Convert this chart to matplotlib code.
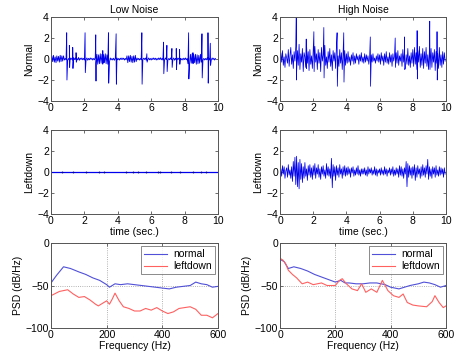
import matplotlib
matplotlib.use("Agg")
import matplotlib.pyplot as plt
import numpy as np

# ---------------- data ----------------
sample_dt = 0.05

# Low noise, normal: base samples every 0.05 s (bursts included) plus spikes
ln_base = [
    0.1, 0.3, -0.25, 0.35, -0.3, 0.2, -0.35, 0.3, -0.2, 0.25, -0.3, 0.35, -0.25, 0.3, -0.2, 0.3, -0.1, 0.05, -0.08, 0.1,
    -0.1, 0.05, -0.12, 0.1, -0.05, 0.08, -0.1, 0.12, -0.06, 0.1, -0.08, 0.05, -0.1, 0.15, -0.12, 0.08, -0.05, 0.1, -0.08, 0.06,
    -0.1, 0.08, -0.05, 0.1, -0.12, 0.06, -0.08, 0.1, -0.05, 0.08, -0.1, 0.05, -0.08, 0.15, -0.4, 0.45, -0.5, 0.4, -0.45, 0.5,
    -0.4, 0.45, -0.5, 0.4, -0.35, 0.5, -0.45, 0.4, -0.5, 0.35, -0.3, 0.1, -0.08, 0.05, -0.1, 0.08, -0.12, 0.06, -0.05, 0.1,
    -0.08, 0.05, -0.1, 0.08, -0.06, 0.1, -0.05, 0.08, -0.1, 0.06, -0.08, 0.3, -0.35, 0.3, -0.25, 0.35, -0.3, 0.25, -0.35, 0.3,
    -0.3, 0.35, -0.25, 0.1, -0.08, 0.06, -0.1, 0.05, -0.08, 0.1, -0.06, 0.08, -0.05, 0.1, -0.12, 0.08, -0.06, 0.1, -0.08, 0.05,
    -0.1, 0.08, -0.06, 0.1, -0.05, 0.08, -0.1, 0.06, -0.08, 0.1, -0.05, 0.12, -0.08, 0.06, -0.1, 0.05, -0.08, 0.1, -0.06, 0.08,
    -0.1, 0.05, -0.08, 0.1, -0.06, 0.08, -0.05, 0.1, -0.12, 0.06, -0.08, 0.1, -0.05, 0.08, -0.1, 0.06, -0.08, 0.05, -0.1, 0.08,
    -0.06, 0.1, -0.08, 0.05, -0.45, 0.4, -0.5, 0.45, -0.4, 0.5, -0.45, 0.4, -0.35, 0.45, -0.5, 0.4, -0.45, 0.35, -0.4, 0.45,
    -0.3, 0.1, -0.08, 0.06, -0.1, 0.05, -0.08, 0.1, -0.06, 0.08, -0.1, 0.05, -0.08, 0.1, -0.06, 0.08, -0.1, 0.05,
]
ln_spike_t   = [0.94, 1.10, 1.30, 1.50, 2.04, 2.68, 3.10, 3.44, 3.90, 5.44, 5.74, 6.74, 6.94, 7.24, 7.50, 7.70, 8.24, 8.50, 9.04, 9.40, 9.54]
ln_spike_top = [2.5, 1.3, 1.1, 0.6, 2.5, 2.3, 0.8, 2.5, 2.4, 2.5, 0.5, 1.6, 1.3, 1.0, 1.0, 0.9, 2.5, 0.6, 2.4, 2.5, 1.5]
ln_spike_bot = [-2.0, -0.8, -0.9, -0.3, -1.3, -2.1, -0.4, -2.3, -2.4, -2.4, -0.3, -1.4, -1.2, -0.8, -1.0, -0.5, -1.9, -0.4, -1.8, -2.3, -0.6]

# Low noise, leftdown: flat trace with tiny blips
ld_low_dot_t = [0.65, 1.3, 2.1, 2.9, 3.2, 4.5, 4.9, 5.2, 5.7, 6.4, 6.5, 7.2, 7.7, 8.5, 9.0, 9.3]

# High noise, normal: base samples every 0.05 s plus spikes
hn_normal_base = [
    -0.9, 0.6, -0.3, 0.8, -0.6, 0.2, -0.8, 0.5, 0.1, -0.4, 0.9, -0.7, 0.3, 1.1, -0.5, 0.4, -0.9, 0.7, -0.2, 1.2,
    -1.3, 0.8, -0.6, 1.4, -1.0, 0.5, -0.3, 1.0, -1.2, 0.6, 0.2, -0.8, 1.3, -0.4, 0.7, -1.1, 0.9, -0.5, 0.3, -0.9,
    0.8, -0.6, 1.2, -0.3, 0.5, -1.0, 0.9, -0.4, 0.6, -1.2, 1.1, -0.2, 0.4, -0.8, 1.3, -0.6, 0.2, -0.9, 0.7, -0.3,
    1.0, -0.7, 0.4, -1.1, 0.8, -0.2, 0.6, -0.9, 1.2, -0.5, 0.3, -0.7, 0.9, -0.4, 0.6, -1.0, 0.5, -0.3, 0.8, -0.6,
    0.5, -0.4, 0.7, -0.3, 0.2, -0.6, 0.4, -0.2, 0.6, -0.5, 0.3, -0.4, 0.5, -0.1, 0.3, -0.5, 0.4, -0.2, 0.6, -0.3,
    0.2, -0.4, 0.5, -0.3, 0.4, -0.2, 0.3, -0.5, 0.2, -0.1, 0.4, -0.3, 0.5, -0.2, 0.1, -0.4, 0.3, -0.2, 0.5, -0.3,
    0.4, -0.5, 0.6, -0.2, 0.3, -0.6, 0.5, -0.3, 0.7, -0.4, 0.2, -0.5, 0.6, -0.3, 0.4, -0.7, 0.5, -0.2, 0.3, -0.5,
    0.6, -0.4, 0.8, -0.6, 0.3, -0.2, 0.5, -0.7, 0.9, -0.3, 0.7, -0.9, 0.4, -0.5, 1.0, -0.6, 0.3, -0.8, 0.6, -0.4,
    0.9, -0.7, 1.1, -0.5, 0.6, -1.0, 0.8, -0.3, 1.2, -0.8, 0.5, -0.6, 1.0, -0.9, 0.7, -0.4, 1.1, -0.7, 0.4, -1.0,
    0.8, -0.5, 1.0, -0.8, 0.6, -0.3, 0.9, -1.1, 0.7, -0.4, 0.5, -0.9, 1.1, -0.6, 0.4, -0.8, 0.7, -0.5, 0.6, -0.2,
]
hn_spike_t   = [0.98, 1.58, 2.04, 2.64, 3.44, 3.84, 5.44, 6.94, 7.50, 8.26, 9.02, 9.46]
hn_spike_top = [4.0, 1.9, 2.6, 3.0, 2.5, 2.5, 2.1, 2.0, 2.1, 2.7, 3.6, 2.6]
hn_spike_bot = [-2.0, -0.9, -1.2, -1.8, -2.6, -2.2, -2.6, -0.8, -1.0, -1.9, -1.0, -2.0]

# High noise, leftdown
hn_leftdown_base = [
    -0.8, 0.3, -0.4, 0.6, -0.2, 0.5, -0.6, 0.1, 0.4, -0.5, 0.7, -0.3, 0.2, -0.6, 0.5, -0.9, 1.0, -0.4, 1.4, -1.2,
    1.5, -1.4, 0.9, -1.6, 1.2, -0.7, 0.8, -1.0, 0.5, -0.6, 0.9, -0.4, 0.3, -0.8, 0.6, -0.3, 0.7, -0.5, 0.4, -0.7,
    0.6, -0.3, 0.8, -0.6, 0.4, -0.2, 0.7, -0.5, 0.3, -0.7, 0.5, -0.2, 0.6, -0.4, 0.2, -0.6, 0.8, -0.3, 0.5, -0.4,
    0.3, -0.6, 1.3, -1.5, 0.7, -0.4, 0.5, -0.8, 0.6, -0.3, 0.4, -0.5, 0.7, -0.2, 0.3, -0.6, 0.5, -0.3, 0.6, -0.4,
    0.4, -0.3, 0.5, -0.2, 0.3, -0.5, 0.4, -0.1, 0.5, -0.4, 0.2, -0.3, 0.4, -0.2, 0.6, -0.3, 0.2, -0.4, 0.3, -0.2,
    0.3, -0.2, 0.4, -0.3, 0.2, -0.4, 0.5, -0.2, 0.3, -0.1, 0.4, -0.3, 0.2, -0.2, 0.5, -0.3, 0.3, -0.4, 0.2, -0.1,
    0.3, -0.3, 0.4, -0.2, 0.2, -0.3, 0.5, -0.2, 0.3, -0.4, 0.2, -0.1, 0.4, -0.3, 0.3, -0.2, 0.5, -0.4, 0.2, -0.3,
    0.4, -0.2, 0.3, -0.5, 0.6, -0.3, 0.5, -0.4, 0.3, -0.6, 0.4, -0.2, 1.0, -1.4, 0.8, -0.5, 0.6, -0.3, 0.4, -0.6,
    0.5, -0.3, 0.7, -0.8, 0.4, -0.5, 0.6, -0.2, 0.3, -0.6, 0.5, -0.4, 0.7, -0.3, 0.4, -0.5, 0.6, -0.2, 1.2, -0.7,
    0.5, -0.4, 0.3, -0.6, 0.5, -0.2, 0.4, -0.5, 0.6, -0.3, 0.2, -0.4, 0.5, -0.3, 0.4, -0.2, 0.3, -0.5, 0.4, -0.2,
]

# PSD, low noise
psd_low_normal_f = [0, 20, 45, 70, 100, 125, 150, 175, 200, 210, 230, 250, 275, 300, 325, 350, 375, 400, 425, 450, 475, 500, 520, 540, 560, 580, 600]
psd_low_normal_v = [-47, -38, -28, -30, -34, -37, -41, -44, -49, -52, -48, -49, -48, -49, -50, -51, -52, -53, -54, -52, -51, -50, -46, -48, -49, -52, -51]
psd_low_left_f = [0, 30, 60, 80, 100, 120, 140, 160, 170, 190, 200, 210, 220, 230, 245, 260, 280, 300, 320, 340, 360, 380, 400, 420, 440, 460, 480, 500, 520, 540, 560, 580, 600]
psd_low_left_v = [-62, -57, -55, -60, -64, -63, -67, -72, -74, -70, -68, -72, -66, -59, -68, -75, -77, -80, -80, -77, -79, -76, -80, -83, -81, -77, -76, -75, -78, -85, -85, -88, -83]

# PSD, high noise
psd_high_normal_f = [0, 15, 30, 50, 75, 100, 125, 150, 175, 200, 220, 235, 250, 275, 300, 325, 350, 380, 400, 430, 450, 470, 500, 520, 540, 560, 580, 600]
psd_high_normal_v = [-19, -22, -30, -28, -30, -33, -37, -40, -43, -46, -44, -47, -47, -48, -48, -47, -47, -49, -52, -54, -52, -50, -48, -46, -47, -49, -52, -50]
psd_high_left_f = [0, 10, 20, 30, 45, 60, 80, 100, 120, 150, 170, 200, 215, 225, 240, 260, 280, 295, 310, 330, 350, 370, 390, 410, 430, 445, 460, 480, 500, 530, 550, 560, 575, 590, 600]
psd_high_left_v = [-18, -20, -24, -32, -37, -41, -48, -46, -49, -47, -50, -50, -44, -42, -48, -54, -56, -48, -58, -54, -58, -44, -56, -62, -64, -60, -70, -73, -74, -75, -69, -62, -70, -76, -74]

titles = ["Low Noise", "High Noise"]
row_labels = ["Normal", "Leftdown", "PSD (dB/Hz)"]
legend_labels = ["normal", "leftdown"]

# ---------------- style ----------------
plt.rcParams['font.family'] = ['Liberation Sans', 'DejaVu Sans']
FS = 7.5
TRACE = '#0000ee'
PSD_BLUE = '#5050d8'
PSD_RED = '#ff6060'
EDGE = '#555555'

fig = plt.figure(figsize=(4.74, 3.63), dpi=100)

colx = [51 / 474, 280 / 474]
colw = [167 / 474, 166 / 474]
rows = [(1 - 101 / 363, 84 / 363), (1 - 214 / 363, 84 / 363), (1 - 328 / 363, 85 / 363)]

def style(ax):
    for s in ax.spines.values():
        s.set_color(EDGE)
        s.set_linewidth(0.7)
    ax.tick_params(direction='in', length=2.5, width=0.6, colors=EDGE, labelcolor='black',
                   labelsize=FS, top=True, right=True, pad=1.5)

def merged(base, st, top, bot):
    t = list(np.arange(len(base)) * sample_dt)
    v = list(base)
    for ti, a, b in zip(st, top, bot):
        t += [ti, ti + 0.015]
        v += [a, b]
    order = np.argsort(t, kind='stable')
    return np.array(t)[order], np.array(v)[order]

axes = {}
for c in range(2):
    for r in range(3):
        ax = fig.add_axes([colx[c], rows[r][0], colw[c], rows[r][1]])
        style(ax)
        axes[(r, c)] = ax

for c in range(2):
    for r in range(2):
        ax = axes[(r, c)]
        ax.set_xlim(0, 10)
        ax.set_ylim(-4, 4)
        ax.set_xticks([0, 2, 4, 6, 8, 10])
        ax.set_yticks([-4, -2, 0, 2, 4])
        ax.set_ylabel(row_labels[r], fontsize=FS, labelpad=2)
    axes[(0, c)].set_title(titles[c], fontsize=FS, pad=3)
    axes[(1, c)].set_xlabel("time (sec.)", fontsize=FS, labelpad=1)

# Low noise normal
t, v = merged(ln_base, ln_spike_t, ln_spike_top, ln_spike_bot)
axes[(0, 0)].plot(t, v, color=TRACE, lw=0.6)

# Low noise leftdown
ax = axes[(1, 0)]
ax.plot([0, 10], [0, 0], color=TRACE, lw=0.9)
ax.plot(ld_low_dot_t, [0] * len(ld_low_dot_t), 'o', color='#000088', ms=1.3, mew=0)

# High noise normal
t, v = merged(hn_normal_base, hn_spike_t, hn_spike_top, hn_spike_bot)
axes[(0, 1)].plot(t, v, color=TRACE, lw=0.55)

# High noise leftdown
t2 = np.arange(len(hn_leftdown_base)) * sample_dt
axes[(1, 1)].plot(t2, hn_leftdown_base, color=TRACE, lw=0.55)

# PSD rows
psd = [(psd_low_normal_f, psd_low_normal_v, psd_low_left_f, psd_low_left_v),
       (psd_high_normal_f, psd_high_normal_v, psd_high_left_f, psd_high_left_v)]
for c in range(2):
    ax = axes[(2, c)]
    nf, nv, lf, lv = psd[c]
    ax.plot(nf, nv, color=PSD_BLUE, lw=0.8, label=legend_labels[0])
    ax.plot(lf, lv, color=PSD_RED, lw=0.8, label=legend_labels[1])
    ax.set_xlim(0, 600)
    ax.set_ylim(-100, 0)
    ax.set_xticks([0, 200, 400, 600])
    ax.set_yticks([-100, -50, 0])
    ax.grid(True, linestyle=':', color='#999999', lw=0.6)
    ax.set_xlabel("Frequency (Hz)", fontsize=FS, labelpad=1)
    ax.set_ylabel(row_labels[2], fontsize=FS, labelpad=2)
    leg = ax.legend(loc='upper right', fontsize=FS, frameon=True, fancybox=False,
                    borderpad=0.3, labelspacing=0.2, handlelength=2.2, handletextpad=0.6,
                    borderaxespad=0.3)
    leg.get_frame().set_edgecolor(EDGE)
    leg.get_frame().set_linewidth(0.6)

fig.savefig("out.png", dpi=100, facecolor='white')
